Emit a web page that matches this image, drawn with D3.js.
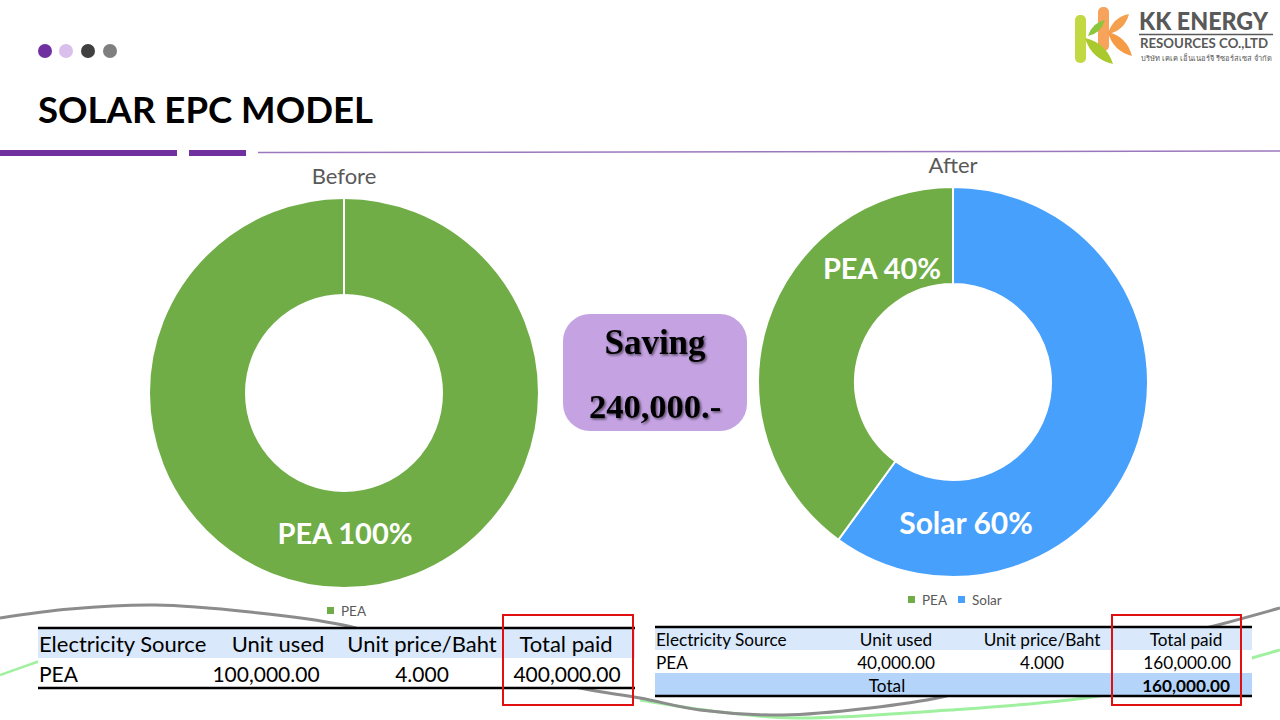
<!DOCTYPE html>
<html lang="en">
<head>
<meta charset="UTF-8">
<title>Solar EPC Model</title>
<style>
    html, body { margin: 0; padding: 0; background: #fff; }
    svg { display: block; font-family: Lato, sans-serif; }
</style>
</head>
<body>
<div id="chart"></div>
<script src="https://d3js.org/d3.v7.min.js"></script>
<script>
// data
const beforeSources = ["PEA"];
const beforeValues = [100];
const afterSources = ["Solar", "PEA"];
const afterValues = [60, 40];
const legendBefore = ["PEA"];
const legendAfter = ["PEA", "Solar"];
const tableHeader = ["Electricity Source", "Unit used", "Unit price/Baht", "Total paid"];
const beforeRow = ["PEA", "100,000.00", "4.000", "400,000.00"];
const afterRow = ["PEA", "40,000.00", "4.000", "160,000.00"];
const afterTotal = ["Total", "160,000.00"];

const colors = { PEA: "#70ad47", Solar: "#46a0fc" };

const svg = d3.select("#chart").append("svg")
    .attr("width", 1280)
    .attr("height", 720);

const defs = svg.append("defs");
const shadow = defs.append("filter").attr("id", "textShadow")
    .attr("x", "-10%").attr("y", "-10%").attr("width", "120%").attr("height", "130%");
shadow.append("feDropShadow")
    .attr("dx", 1.5).attr("dy", 1.5).attr("stdDeviation", 1.2)
    .attr("flood-color", "#000").attr("flood-opacity", 0.55);

//background swooshes, tables sit on top of them
const swoosh = d3.line().curve(d3.curveCatmullRom);
svg.append("path")
    .attr("d", swoosh([[0, 675], [37, 662], [70, 650]]))
    .attr("fill", "none").attr("stroke", "#9ff09f").attr("stroke-width", 2.5);
svg.append("path")
    .attr("d", swoosh([[640, 700], [720, 712], [795, 718], [950, 710], [1085, 698], [1180, 680], [1252, 658], [1280, 650]]))
    .attr("fill", "none").attr("stroke", "#9ff09f").attr("stroke-width", 3);
svg.append("path")
    .attr("d", swoosh([[0, 618], [70, 609], [155, 605], [250, 612], [343, 625], [460, 658], [580, 688], [640, 698], [700, 710], [783, 715], [870, 708], [942, 697], [1080, 660], [1218, 625], [1280, 608]]))
    .attr("fill", "none").attr("stroke", "#8c8c8c").attr("stroke-width", 3);

// header dots, title, rule
svg.selectAll(".dot")
    .data(["#7030a0", "#d9bfec", "#404040", "#7f7f7f"])
    .enter().append("circle")
    .attr("class", "dot")
    .attr("cx", (d, i) => [45, 66, 88, 110][i])
    .attr("cy", 51)
    .attr("r", 7)
    .attr("fill", d => d);

svg.append("text")
    .text("SOLAR EPC MODEL")
    .attr("x", 38).attr("y", 123)
    .attr("font-size", 36).attr("font-weight", 700).attr("fill", "#000")
    .attr("textLength", 335).attr("lengthAdjust", "spacingAndGlyphs");

svg.append("rect").attr("x", 0).attr("y", 150).attr("width", 177).attr("height", 6).attr("fill", "#7030a0");
svg.append("rect").attr("x", 189).attr("y", 150).attr("width", 57).attr("height", 6).attr("fill", "#7030a0");
svg.append("line").attr("x1", 258).attr("y1", 152.5).attr("x2", 1280).attr("y2", 151)
    .attr("stroke", "#9b78bd").attr("stroke-width", 1.5);

// logo
const logo = svg.append("g");
const leaf = (x1, y1, x2, y2, w) => {
    const mx = (x1 + x2) / 2, my = (y1 + y2) / 2;
    const dx = x2 - x1, dy = y2 - y1, len = Math.hypot(dx, dy);
    const nx = -dy / len * w, ny = dx / len * w;
    return `M${x1},${y1}Q${mx + nx},${my + ny} ${x2},${y2}Q${mx - nx},${my - ny} ${x1},${y1}Z`;
};
logo.append("rect").attr("x", 1098).attr("y", 7).attr("width", 11).attr("height", 44).attr("rx", 5).attr("fill", "#f7a35c");
logo.append("path").attr("d", leaf(1108, 34, 1129, 14, 9)).attr("fill", "#f5a04f");
logo.append("path").attr("d", leaf(1108, 32, 1132, 56, 10)).attr("fill", "#f59a45");
logo.append("rect").attr("x", 1075).attr("y", 15).attr("width", 11).attr("height", 48).attr("rx", 5).attr("fill", "#c2d944");
logo.append("path").attr("d", leaf(1088, 36, 1105, 20, 7)).attr("fill", "#8cc63f");
logo.append("path").attr("d", leaf(1085, 38, 1113, 64, 11)).attr("fill", "#a9c92f");
logo.append("text").text("KK ENERGY").attr("x", 1139).attr("y", 30)
    .attr("font-size", 24).attr("font-weight", 900).attr("fill", "#595959")
    .attr("textLength", 129).attr("lengthAdjust", "spacingAndGlyphs");
logo.append("line").attr("x1", 1139).attr("y1", 34.5).attr("x2", 1273).attr("y2", 34.5)
    .attr("stroke", "#595959").attr("stroke-width", 1.5);
logo.append("text").text("RESOURCES CO.,LTD").attr("x", 1140).attr("y", 48)
    .attr("font-size", 12.5).attr("font-weight", 700).attr("fill", "#595959")
    .attr("textLength", 128).attr("lengthAdjust", "spacingAndGlyphs");
logo.append("text").text("บริษัท เคเค เอ็นเนอร์จี รีซอร์สเซส จำกัด").attr("x", 1141).attr("y", 61)
    .attr("font-size", 7.5).attr("fill", "#595959");

// donuts
function drawDonut(cx, cy, outer, inner, sources, values, title, titleY) {
    const g = svg.append("g").attr("transform", `translate(${cx},${cy})`);
    const pie = d3.pie().sort(null).value(d => d.value);
    const arc = d3.arc().innerRadius(inner).outerRadius(outer);
    const rows = sources.map((s, i) => ({ source: s, value: values[i] }));
    g.selectAll("path")
        .data(pie(rows))
        .enter().append("path")
        .attr("d", arc)
        .attr("fill", d => colors[d.data.source])
        .attr("stroke", "#fff")
        .attr("stroke-width", 2);
    // seam at 12 o'clock
    g.append("line")
        .attr("x1", 0).attr("x2", 0)
        .attr("y1", -outer).attr("y2", -inner)
        .attr("stroke", "#fff").attr("stroke-width", 2);
    svg.append("text")
        .text(title)
        .attr("x", cx).attr("y", titleY)
        .attr("text-anchor", "middle")
        .attr("font-size", 22)
        .attr("fill", "#595959");
}
drawDonut(344, 393, 195, 98, beforeSources, beforeValues, "Before", 184);
drawDonut(953, 382, 195, 98, afterSources, afterValues, "After", 173);

const sliceLabel = (txt, x, y, size) => svg.append("text")
    .text(txt)
    .attr("x", x).attr("y", y)
    .attr("text-anchor", "middle")
    .attr("font-size", size).attr("font-weight", 700)
    .attr("fill", "#fff");
sliceLabel("PEA 100%", 345, 544, 29);
sliceLabel("PEA 40%", 882, 279, 29);
sliceLabel("Solar 60%", 966, 534, 30);

// legends
function drawLegend(names, xs, y) {
    const g = svg.append("g");
    names.forEach((n, i) => {
        g.append("rect").attr("x", xs[i]).attr("y", y - 9).attr("width", 7).attr("height", 7).attr("fill", colors[n]);
        g.append("text").text(n).attr("x", xs[i] + 14).attr("y", y)
            .attr("font-size", 13.5).attr("fill", "#595959");
    });
}
drawLegend(legendBefore, [327], 616);
drawLegend(legendAfter, [908, 958], 605);

// saving box
svg.append("rect")
    .attr("x", 563).attr("y", 314).attr("width", 184).attr("height", 117)
    .attr("rx", 27)
    .attr("fill", "#c5a3e3");
svg.selectAll(".saving")
    .data(["Saving", "240,000.-"])
    .enter().append("text")
    .attr("class", "saving")
    .text(d => d)
    .attr("x", 655)
    .attr("y", (d, i) => [354, 418][i])
    .attr("text-anchor", "middle")
    .attr("font-family", "'Liberation Serif', serif")
    .attr("font-weight", 700)
    .attr("font-size", (d, i) => [35, 34.5][i])
    .attr("fill", "#000")
    .attr("filter", "url(#textShadow)");

// tables
function cell(txt, x, y, size, anchor, bold) {
    svg.append("text").text(txt)
        .attr("x", x).attr("y", y)
        .attr("font-size", size)
        .attr("text-anchor", anchor)
        .attr("font-weight", bold ? 700 : 400)
        .attr("fill", "#000");
}

// left table
svg.append("rect").attr("x", 38).attr("y", 628).attr("width", 597).attr("height", 60).attr("fill", "#fff");
svg.append("rect").attr("x", 38).attr("y", 629).attr("width", 597).attr("height", 29).attr("fill", "#d9e9fb");
svg.append("line").attr("x1", 38).attr("x2", 635).attr("y1", 628).attr("y2", 628).attr("stroke", "#000").attr("stroke-width", 2.5);
svg.append("line").attr("x1", 38).attr("x2", 635).attr("y1", 688).attr("y2", 688).attr("stroke", "#000").attr("stroke-width", 2.5);
const leftCols = [[39, "start"], [278, "middle"], [422, "middle"], [566, "middle"]];
tableHeader.forEach((h, i) => cell(h, leftCols[i][0], 652, 22, leftCols[i][1]));
const leftRowCols = [[39, "start"], [266, "middle"], [422, "middle"], [567, "middle"]];
beforeRow.forEach((v, i) => cell(v, leftRowCols[i][0], 682, 21, leftRowCols[i][1]));

// right table
svg.append("rect").attr("x", 655).attr("y", 627).attr("width", 597).attr("height", 69).attr("fill", "#fff");
svg.append("rect").attr("x", 655).attr("y", 628).attr("width", 597).attr("height", 22).attr("fill", "#d9e9fb");
svg.append("rect").attr("x", 655).attr("y", 673).attr("width", 597).attr("height", 23).attr("fill", "#b4d5f9");
svg.append("line").attr("x1", 655).attr("x2", 1252).attr("y1", 627).attr("y2", 627).attr("stroke", "#000").attr("stroke-width", 2.5);
svg.append("line").attr("x1", 655).attr("x2", 1252).attr("y1", 696).attr("y2", 696).attr("stroke", "#000").attr("stroke-width", 2.5);
const rightCols = [[656, "start"], [896, "middle"], [1042, "middle"], [1186, "middle"]];
tableHeader.forEach((h, i) => cell(h, rightCols[i][0], 646, 17.2, rightCols[i][1]));
const rightRowCols = [[656, "start"], [896, "middle"], [1042, "middle"], [1231, "end"]];
afterRow.forEach((v, i) => cell(v, rightRowCols[i][0], 669, 17.2, rightRowCols[i][1]));
cell(afterTotal[0], 887, 692, 17.2, "middle");
cell(afterTotal[1], 1230, 692, 17.2, "end", true);

// red highlight boxes
[[503, 130], [1112, 129]].forEach(b => {
    svg.append("rect")
        .attr("x", b[0]).attr("y", 615).attr("width", b[1]).attr("height", 90)
        .attr("fill", "none").attr("stroke", "#e01010").attr("stroke-width", 2);
});
</script>
</body>
</html>
